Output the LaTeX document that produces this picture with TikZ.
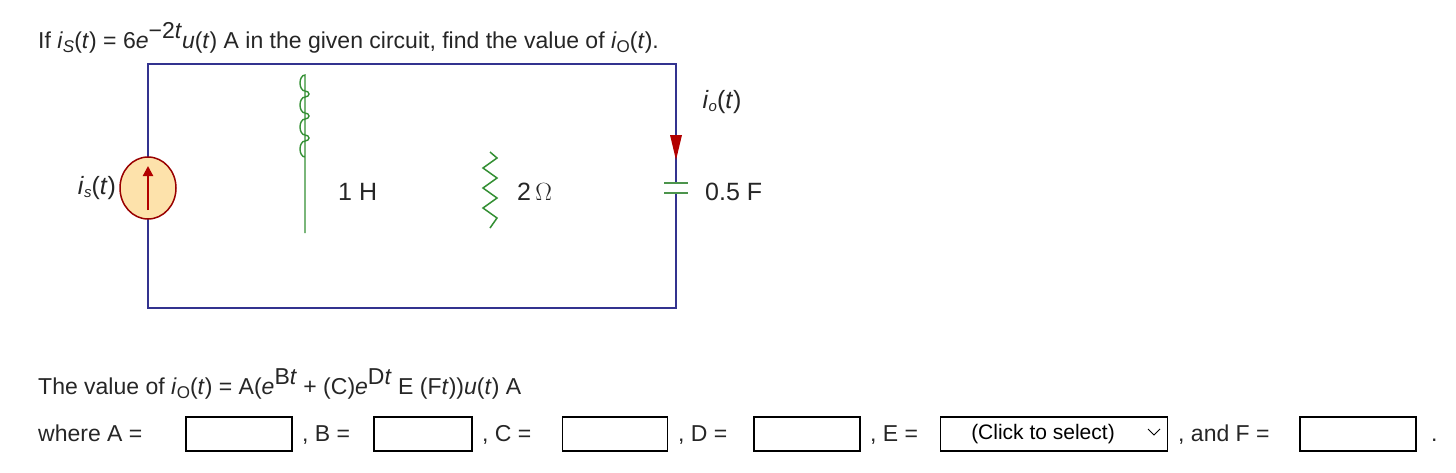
\documentclass[tikz,border=0pt]{standalone}
\usepackage{fontspec}
\setmainfont{Liberation Sans}
\usetikzlibrary{shapes.geometric,arrows.meta}
\begin{document}
\begin{tikzpicture}[x=1pt,y=-1pt,
  wire/.style={draw=blue!45!black!80, line width=1.3pt},
  txt/.style={anchor=base west, inner sep=0, font=\fontsize{23}{28}\selectfont, text=black!85},
  ser/.style={inner sep=0, font=\fontsize{25}{30}\selectfont\rmfamily, text=black!85},
  box/.style={draw=black, line width=1.3pt, minimum height=34pt, inner sep=0}]
\useasboundingbox (0,0) rectangle (1456,472);
\fill[white] (0,0) rectangle (1456,472);
% text
\node[txt] (l1) at (38,48) {If \textit{i}\raisebox{-4pt}{\fontsize{17}{17}\selectfont\textit{S}}(\textit{t}) = 6\textit{e}\raisebox{10pt}{−2\textit{t}}\textit{u}(\textit{t}) A in the given circuit, find the value of \textit{i}\raisebox{-4pt}{\fontsize{17}{17}\selectfont O}(\textit{t}).};
\node[txt] (l2) at (38,394) {The value of \textit{i}\raisebox{-4pt}{\fontsize{17}{17}\selectfont O}(\textit{t}) = A(\textit{e}\raisebox{10pt}{B\textit{t}} + (C)\textit{e}\raisebox{10pt}{D\textit{t}} E (F\textit{t}))\textit{u}(\textit{t}) A};
\node[txt] (w) at (38,441) {where A =};
\node[box,minimum width=106pt] (bA) at (239,434) {};
\node[txt] (tB) at (302,441) {, B =};
\node[box,minimum width=98pt] (bB) at (423,434) {};
\node[txt] (tC) at (482,441) {, C =};
\node[box,minimum width=105pt] (bC) at (615,434) {};
\node[txt] (tD) at (678,441) {, D =};
\node[box,minimum width=106pt] (bD) at (807,434) {};
\node[txt] (tE) at (870,441) {, E =};
\node[box,minimum width=227pt,font=\fontsize{21}{26}\selectfont,text=black] (bE) at (1054,434) {\hspace*{-22pt}(Click to select)};
\draw[line width=1pt] (1148,429) -- (1154,435) -- (1160,429);
\node[txt] (tF) at (1178,441) {, and F =};
\node[box,minimum width=116pt] (bF) at (1358,434) {};
\node[txt] (dot) at (1431,441) {.};
% circuit coordinates
\coordinate (tl) at (148,64); \coordinate (bl) at (148,308);
\coordinate (tL) at (305,64); \coordinate (bL) at (305,308);
\coordinate (tR) at (490,64); \coordinate (bR) at (490,308);
\coordinate (tc) at (676,64); \coordinate (bc) at (676,308);
\draw[wire] (tl) -- (tc) -- (bc) -- (bl) -- cycle;
\node[draw=red!60!black, fill=yellow!30!orange!30, line width=1.5pt, ellipse, minimum width=56pt, minimum height=62pt, inner sep=0] (src) at (148,188) {};
\draw[red!70!black, line width=2.2pt, -{Triangle[length=10pt,width=10pt]}] (148,210) -- (148,166);
\node[ser] (is) at (97,188) {\textit{i}\raisebox{-3pt}{\fontsize{15}{15}\selectfont\textit{s}}(\textit{t})};
% inductor
\coordinate (L1) at (305,157); \coordinate (L2) at (305,233);
\fill[white] (298,157) rectangle (312,233);
\draw[green!45!black!80, line width=1.4pt] (305,157) arc (90:270:5 and 8)
  \foreach \k in {1,2,3}{ arc (90:-90:4 and 3) arc (90:270:5 and 8)} -- (305,233);
\node[ser,anchor=west] (lH) at (338,192) {1 H};
% resistor
\coordinate (R1) at (490,152); \coordinate (R2) at (490,228);
\fill[white] (480,152) rectangle (500,228);
\draw[green!45!black!80, line width=1.5pt] (R1) -- (497,158) -- (483,168) -- (497,178) -- (483,188) -- (497,198) -- (483,208) -- (497,218) -- (R2);
\node[ser,anchor=west] (rO) at (517,192) {2\,$\Omega$};
% capacitor
\fill[white] (664,184) rectangle (688,192);
\draw[green!40!black!70, line width=1.4pt] (664,183) -- (688,183) (664,193) -- (688,193);
\node[ser,anchor=west] (cF) at (705,192) {0.5 F};
\fill[red!70!black] (670,135) -- (682,135) -- (676,160) -- cycle;
\node[ser] (io) at (722,102) {\textit{i}\raisebox{-3pt}{\fontsize{15}{15}\selectfont\textit{o}}(\textit{t})};
\end{tikzpicture}
\end{document}
